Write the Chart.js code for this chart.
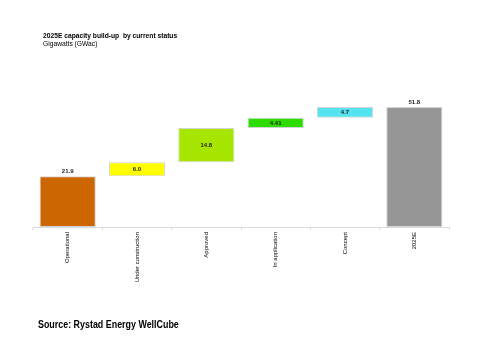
<!DOCTYPE html>
<html>
<head>
<meta charset="utf-8">
<script src="https://cdn.jsdelivr.net/npm/chart.js@4.4.0/dist/chart.umd.min.js"></script>
<style>
  body { margin: 0; background: #fff; }
  #wrap { position: relative; width: 480px; height: 350px; }
  #chart { position: absolute; left: 0; top: 0; }
  .txt { position: absolute; font-family: "Liberation Sans", Arial, sans-serif; color: #000; white-space: nowrap; }
  #title { left: 43px; top: 32px; font-size: 6.7px; font-weight: bold; }
  #subtitle { left: 43px; top: 40px; font-size: 6.7px; }
  #source { left: 38px; top: 319px; font-size: 10px; font-weight: bold; transform: scaleX(0.89); transform-origin: left top; }
</style>
</head>
<body>
<div id="wrap">
  <canvas id="chart" width="480" height="350"></canvas>
  <div class="txt" id="title">2025E capacity build-up &nbsp;by current status</div>
  <div class="txt" id="subtitle">Gigawatts (GWac)</div>
  <div class="txt" id="source">Source: Rystad Energy WellCube</div>
</div>
<script>
// chart data
const categories = ["Operational", "Under construction", "Approved", "In application", "Concept", "2025E"];
const values = [21.9, 6.0, 14.8, 4.41, 4.7, 51.8];
const valueLabels = ["21.9", "6.0", "14.8", "4.41", "4.7", "51.8"];
const barColors = ["#cc6600", "#ffff00", "#a6e600", "#2edd00", "#55e3f0", "#969696"];

// build floating ranges: first and last bars start at 0, others stack up
let ranges = [];
let running = 0;
for (let i = 0; i < values.length; i++) {
    if (i == 0 || i == values.length - 1) {
        ranges.push([0, values[i]]);
        running = values[i];
    } else {
        ranges.push([running, running + values[i]]);
        running = running + values[i];
    }
}

// draws value labels in middle of floating bars, above total bars
const valueLabelPlugin = {
    id: "valueLabels",
    afterDatasetsDraw(chart) {
        const ctx = chart.ctx;
        const meta = chart.getDatasetMeta(0);
        ctx.save();
        ctx.font = "bold 6px 'Liberation Sans', Arial, sans-serif";
        ctx.fillStyle = "#222";
        ctx.textAlign = "center";
        ctx.textBaseline = "middle";
        for (let i = 0; i < meta.data.length; i++) {
            let bar = meta.data[i];
            let y;
            if (i == 0 || i == meta.data.length - 1) {
                y = bar.y - 5;
            } else {
                y = (bar.y + bar.base) / 2;
            }
            ctx.fillText(valueLabels[i], bar.x, y);
        }
        ctx.restore();
    }
};

new Chart(document.getElementById("chart"), {
    type: "bar",
    data: {
        labels: categories,
        datasets: [{
            data: ranges,
            backgroundColor: barColors,
            borderColor: "#d4d4d4",
            borderWidth: 1,
            borderSkipped: false,
            categoryPercentage: 0.81,
            barPercentage: 1.0
        }]
    },
    options: {
        responsive: false,
        animation: false,
        layout: { padding: { left: 33, right: 31, top: 88, bottom: 0 } },
        plugins: {
            legend: { display: false },
            tooltip: { enabled: false }
        },
        scales: {
            x: {
                offset: true,
                grid: {
                    offset: true,
                    drawOnChartArea: false,
                    color: "#d9d9d9",
                    tickLength: 3
                },
                border: { color: "#d9d9d9" },
                ticks: {
                    minRotation: 90,
                    maxRotation: 90,
                    padding: 2,
                    color: "#000",
                    font: { family: "'Liberation Sans', Arial, sans-serif", size: 6 }
                },
                afterFit: (scale) => { scale.height = 123; }
            },
            y: {
                display: false,
                min: 0,
                max: 60
            }
        }
    },
    plugins: [valueLabelPlugin]
});
</script>
</body>
</html>
